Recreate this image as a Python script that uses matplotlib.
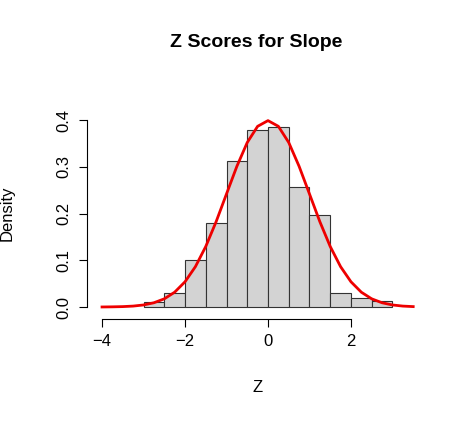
import matplotlib.pyplot as plt
import numpy as np

plt.rcParams["font.family"] = ["Liberation Sans", "DejaVu Sans"]

# histogram bins (width 0.5) and density heights
bin_edges = [-3.0, -2.5, -2.0, -1.5, -1.0, -0.5, 0.0, 0.5, 1.0, 1.5, 2.0, 2.5, 3.0]
densities = [0.010, 0.030, 0.100, 0.180, 0.312, 0.378, 0.386, 0.256, 0.196, 0.030, 0.020, 0.012]

# red density curve
curve_x = [-4.0, -3.75, -3.5, -3.25, -3.0, -2.75, -2.5, -2.25, -2.0, -1.75, -1.5, -1.25,
           -1.0, -0.75, -0.5, -0.25, 0.0, 0.25, 0.5, 0.75, 1.0, 1.25, 1.5, 1.75,
           2.0, 2.25, 2.5, 2.75, 3.0, 3.25, 3.5]
curve_y = [0.0001, 0.0004, 0.0009, 0.0020, 0.0044, 0.0091, 0.0175, 0.0317, 0.0540, 0.0863,
           0.1295, 0.1826, 0.2420, 0.3011, 0.3521, 0.3867, 0.3989, 0.3867, 0.3521, 0.3011,
           0.2420, 0.1826, 0.1295, 0.0863, 0.0540, 0.0317, 0.0175, 0.0091, 0.0044, 0.0020,
           0.0009]

fig = plt.figure(figsize=(4.74, 4.25), dpi=100)
ax = fig.add_axes([0.189, 0.26, 0.709, 0.475])

lefts = np.array(bin_edges[:-1])
widths = np.diff(bin_edges)
ax.bar(lefts, densities, width=widths, align="edge", color="#d3d3d3",
       edgecolor="#333333", linewidth=0.8)
ax.plot(curve_x, curve_y, color="#ee0000", linewidth=2)

ax.set_xlim(-4.3, 3.8)
ax.set_ylim(-0.016, 0.416)
ax.spines["top"].set_visible(False)
ax.spines["right"].set_visible(False)
ax.spines["left"].set_bounds(0, 0.4)
ax.spines["bottom"].set_bounds(-4, 2)
ax.spines["left"].set_position(("outward", 2))
ax.spines["bottom"].set_position(("outward", 3))
ax.set_xticks([-4, -2, 0, 2])
ax.set_yticks([0.0, 0.1, 0.2, 0.3, 0.4])
ax.set_yticklabels(["0.0", "0.1", "0.2", "0.3", "0.4"], rotation=90, va="center")
ax.tick_params(labelsize=12, length=6, pad=5)

ax.set_xlabel("Z", fontsize=12, labelpad=22)
ax.set_ylabel("Density", fontsize=12, labelpad=30)
fig.suptitle("Z Scores for Slope", fontsize=14, fontweight="bold", y=0.92, x=0.54)

fig.savefig("out.png", dpi=100)
